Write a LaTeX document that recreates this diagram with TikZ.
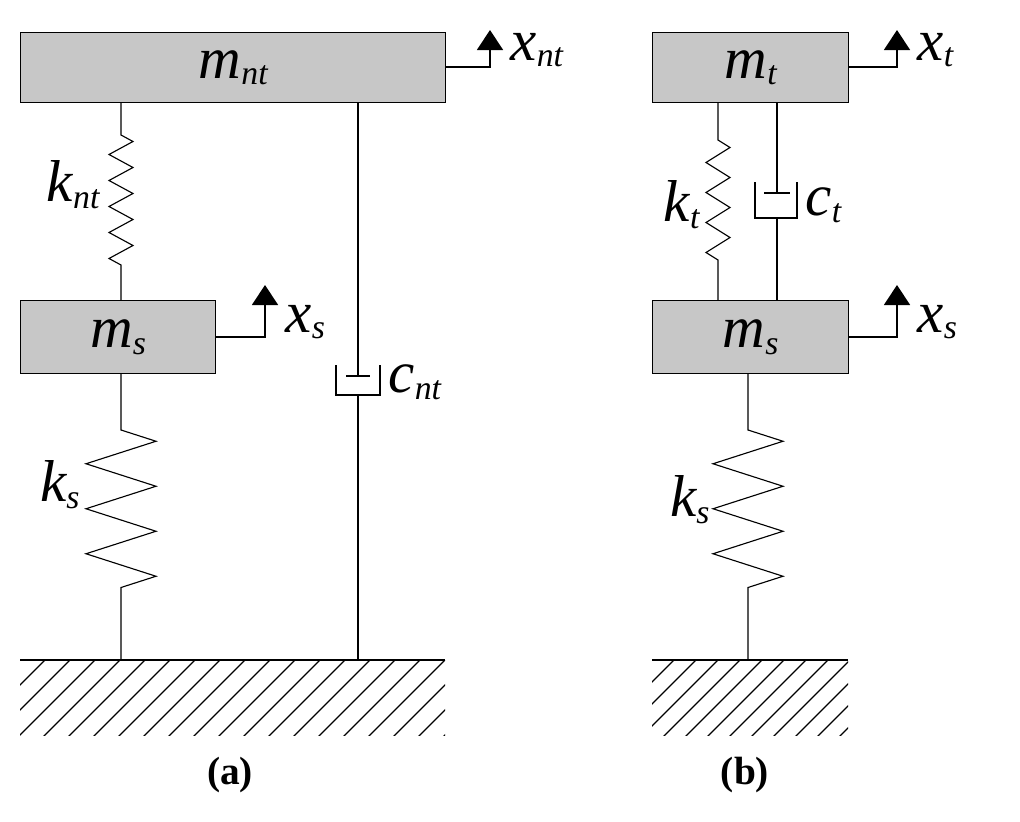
\documentclass[tikz,border=0pt]{standalone}
\usepackage{fontspec}
\setmainfont{Liberation Serif}
\usetikzlibrary{arrows.meta,decorations.pathmorphing}

\tikzset{
  mass/.style = {rectangle, draw, fill = black!22, line width = 1pt,
                 inner sep = 0pt, anchor = north west},
  lab/.style  = {font = \fontsize{42}{42}\selectfont\itshape, inner sep = 0pt},
  disp/.style = {-{Triangle[width = 26*0.025cm, length = 20*0.025cm]}, line width = 1pt},
  spring/.style = {decorate, line width = 0.8pt,
                   decoration = {zigzag, pre length = #1, post length = #1}},
  hatch/.style = {line width = 0.9pt}
}
\newcommand{\sub}[1]{\raisebox{-0.25ex}{\fontsize{24}{24}\selectfont #1}}

\begin{document}
\begin{tikzpicture}[x = 0.025cm, y = -0.025cm, line width = 0.8pt]
    \useasboundingbox (0,0) rectangle (1020,822);

    % (a)
    \node[mass, minimum width = 425*0.025cm, minimum height = 70*0.025cm] (mnt) at (20,32) {};
    \node[lab] at (mnt.center) {m\sub{nt}};
    \node[mass, minimum width = 195*0.025cm, minimum height = 73*0.025cm] (msa) at (20,300) {};
    \node[lab] at (msa.center) {m\sub{s}};

    \coordinate (knttop) at (121,102);
    \coordinate (kntbot) at (121,300);
    \draw[spring = 33*0.025cm, decoration = {amplitude = 12*0.025cm, segment length = 26*0.025cm}] (knttop) -- (kntbot);
    \node[lab, anchor = east] at (100,185) {k\sub{nt}};

    \coordinate (ksatop) at (121,373);
    \coordinate (gnda) at (121,660);
    \draw[spring = 57*0.025cm, decoration = {amplitude = 35*0.025cm, segment length = 45*0.025cm}] (ksatop) -- (gnda);
    \node[lab, anchor = east] at (80,485) {k\sub{s}};

    \coordinate (cnttop) at (358,102);
    \coordinate (cntbot) at (358,660);
    \draw (cnttop) -- (358,376) (358,395) -- (cntbot);
    \draw (336,365) -- (336,395) -- (380,395) -- (380,365) (346,376) -- (370,376);
    \node[lab, anchor = west] at (388,382) {c\sub{nt}};

    \coordinate (xnt) at (490,30);
    \draw[disp] (mnt.east |- 0,67) -| (xnt);
    \node[lab, anchor = west] at (510,50) {x\sub{nt}};
    \coordinate (xsa) at (265,285);
    \draw[disp] (msa.east |- 0,337) -| (xsa);
    \node[lab, anchor = west] at (285,322) {x\sub{s}};

    \draw[line width = 1pt] (20,660) -- (445,660);
    \begin{scope}
      \clip (20,660) rectangle (445,735);
      \foreach \i in {0,...,20} \draw[hatch] (\i*25 - 60,740) -- (\i*25 + 20,660);
    \end{scope}
    \node[font = \fontsize{28}{28}\selectfont\bfseries] (capa) at (230,775) {(a)};

    % (b)
    \node[mass, minimum width = 196*0.025cm, minimum height = 70*0.025cm] (mt) at (652,32) {};
    \node[lab] at (mt.center) {m\sub{t}};
    \node[mass, minimum width = 196*0.025cm, minimum height = 73*0.025cm] (msb) at (652,300) {};
    \node[lab] at (msb.center) {m\sub{s}};

    \coordinate (kttop) at (718,102);
    \coordinate (ktbot) at (718,300);
    \draw[spring = 38*0.025cm, decoration = {amplitude = 12*0.025cm, segment length = 30*0.025cm}] (kttop) -- (ktbot);
    \node[lab, anchor = east] at (700,205) {k\sub{t}};

    \coordinate (cttop) at (777,102);
    \coordinate (ctbot) at (777,300);
    \draw (cttop) -- (777,193) (777,218) -- (ctbot);
    \draw (755,182) -- (755,218) -- (797,218) -- (797,182) (764,193) -- (790,193);
    \node[lab, anchor = west] at (805,205) {c\sub{t}};

    \coordinate (ksbtop) at (748,373);
    \coordinate (gndb) at (748,660);
    \draw[spring = 57*0.025cm, decoration = {amplitude = 35*0.025cm, segment length = 45*0.025cm}] (ksbtop) -- (gndb);
    \node[lab, anchor = east] at (710,500) {k\sub{s}};

    \coordinate (xt) at (897,30);
    \draw[disp] (mt.east |- 0,67) -| (xt);
    \node[lab, anchor = west] at (917,50) {x\sub{t}};
    \coordinate (xsb) at (897,285);
    \draw[disp] (msb.east |- 0,337) -| (xsb);
    \node[lab, anchor = west] at (917,322) {x\sub{s}};

    \draw[line width = 1pt] (652,660) -- (848,660);
    \begin{scope}
      \clip (652,660) rectangle (848,735);
      \foreach \i in {0,...,12} \draw[hatch] (\i*22 + 572,740) -- (\i*22 + 652,660);
    \end{scope}
    \node[font = \fontsize{28}{28}\selectfont\bfseries] (capb) at (745,775) {(b)};
\end{tikzpicture}
\end{document}
